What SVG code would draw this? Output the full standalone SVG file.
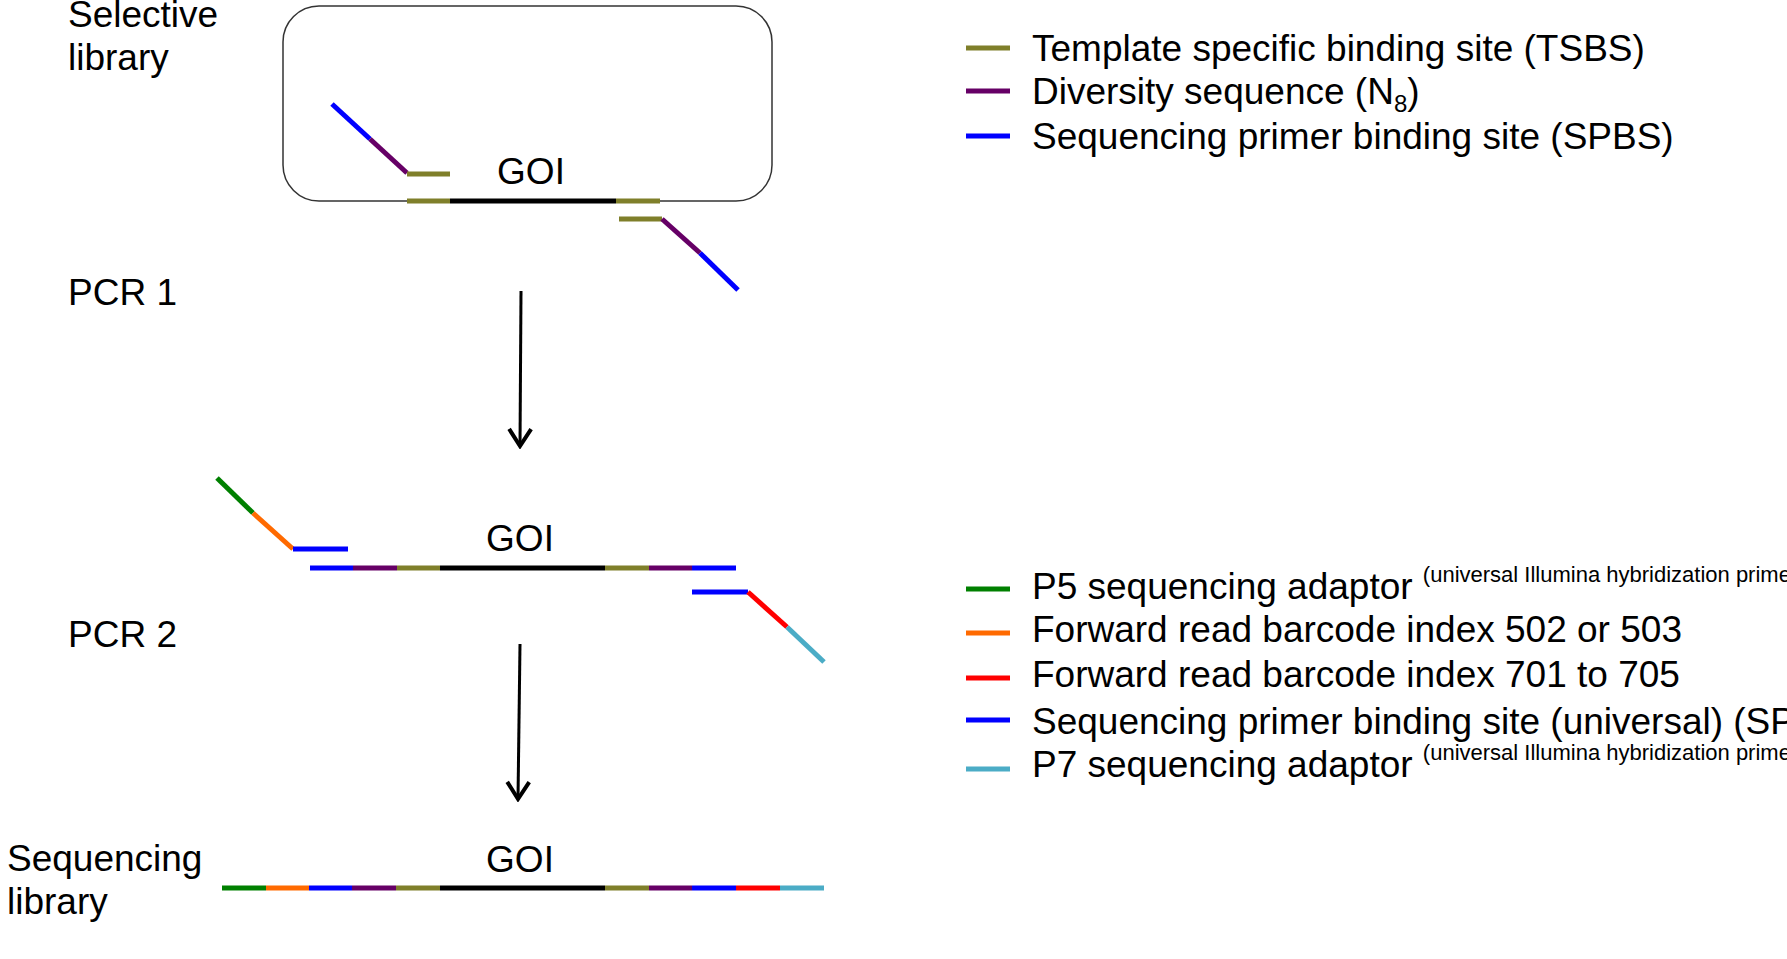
<svg xmlns="http://www.w3.org/2000/svg" width="1787" height="959" viewBox="0 0 1787 959">
<style>
text{font-family:"Liberation Sans",Arial,sans-serif;fill:#000}
.l{font-size:37px}
.s{font-size:22px}
.st{fill:none;stroke-width:5}
.o{stroke:#7f7f2a}.p{stroke:#660066}.b{stroke:#0000ff}.k{stroke:#000}
.g{stroke:#008000}.or{stroke:#ff6a00}.r{stroke:#ff0000}.c{stroke:#4bacc6}
</style>
<defs><marker id="ah" markerWidth="22" markerHeight="26" refX="19" refY="13" orient="auto" markerUnits="userSpaceOnUse" viewBox="0 0 22 26"><path d="M2,2 L19,13 L2,24" fill="none" stroke="#000" stroke-width="4"/></marker></defs>
<rect width="1787" height="959" fill="#fff"/>
<g id="labels">
<text class="l" x="68" y="27">Selective</text>
<text class="l" x="68" y="70">library</text>
<text class="l" x="68" y="305">PCR 1</text>
<text class="l" x="68" y="647">PCR 2</text>
<text class="l" x="7" y="871">Sequencing</text>
<text class="l" x="7" y="914">library</text>
</g>
<g id="selective">
<rect x="283" y="6" width="489" height="195" rx="36" fill="none" stroke="#333" stroke-width="1.5"/>
<text class="l" x="531" y="184" text-anchor="middle">GOI</text>
<polyline class="st b" points="332,104 370,139"/><polyline class="st p" points="370,139 407,173"/><line class="st o" x1="407" y1="174" x2="450" y2="174"/>
<line class="st o" x1="407" y1="201" x2="450" y2="201"/><line class="st k" x1="450" y1="201" x2="616" y2="201"/><line class="st o" x1="616" y1="201" x2="660" y2="201"/>
<line class="st o" x1="619" y1="219" x2="662" y2="219"/><polyline class="st p" points="662,219 700,253"/><polyline class="st b" points="700,253 738,290"/>
</g>
<g id="pcr2">
<text class="l" x="520" y="551" text-anchor="middle">GOI</text>
<line class="st g" x1="217" y1="478" x2="253" y2="513"/><line class="st or" x1="253" y1="513" x2="293" y2="549"/><line class="st b" x1="293" y1="549" x2="348" y2="549"/>
<line class="st b" x1="310" y1="568" x2="353" y2="568"/><line class="st p" x1="353" y1="568" x2="397" y2="568"/><line class="st o" x1="397" y1="568" x2="440" y2="568"/><line class="st k" x1="440" y1="568" x2="605" y2="568"/><line class="st o" x1="605" y1="568" x2="649" y2="568"/><line class="st p" x1="649" y1="568" x2="692" y2="568"/><line class="st b" x1="692" y1="568" x2="736" y2="568"/>
<line class="st b" x1="692" y1="592" x2="748" y2="592"/><line class="st r" x1="748" y1="592" x2="787" y2="627"/><line class="st c" x1="787" y1="627" x2="824" y2="662"/>
</g>
<g id="seqlib">
<text class="l" x="520" y="872" text-anchor="middle">GOI</text>
<line class="st g" x1="222" y1="888" x2="266" y2="888"/><line class="st or" x1="266" y1="888" x2="309" y2="888"/><line class="st b" x1="309" y1="888" x2="352" y2="888"/><line class="st p" x1="352" y1="888" x2="396" y2="888"/><line class="st o" x1="396" y1="888" x2="440" y2="888"/><line class="st k" x1="440" y1="888" x2="605" y2="888"/><line class="st o" x1="605" y1="888" x2="649" y2="888"/><line class="st p" x1="649" y1="888" x2="692" y2="888"/><line class="st b" x1="692" y1="888" x2="736" y2="888"/><line class="st r" x1="736" y1="888" x2="780" y2="888"/><line class="st c" x1="780" y1="888" x2="824" y2="888"/>
</g>
<g id="connectors">
<line x1="521" y1="291" x2="520" y2="446" stroke="#000" stroke-width="3" marker-end="url(#ah)"/>
<line x1="520" y1="644" x2="518" y2="799" stroke="#000" stroke-width="3" marker-end="url(#ah)"/>
</g>
<g id="legend1">
<line class="st o" x1="966" y1="48" x2="1010" y2="48"/><text class="l" x="1032" y="61">Template specific binding site (TSBS)</text>
<line class="st p" x1="966" y1="91" x2="1010" y2="91"/><text class="l" x="1032" y="104">Diversity sequence (N<tspan font-size="24" dy="8">8</tspan><tspan dy="-8">)</tspan></text>
<line class="st b" x1="966" y1="136" x2="1010" y2="136"/><text class="l" x="1032" y="149">Sequencing primer binding site (SPBS)</text>
</g>
<g id="legend2">
<line class="st g" x1="966" y1="589" x2="1010" y2="589"/><text class="l" x="1032" y="599">P5 sequencing adaptor <tspan class="s" dy="-17">(universal Illumina hybridization primer)</tspan></text>
<line class="st or" x1="966" y1="633" x2="1010" y2="633"/><text class="l" x="1032" y="642">Forward read barcode index 502 or 503</text>
<line class="st r" x1="966" y1="678" x2="1010" y2="678"/><text class="l" x="1032" y="687">Forward read barcode index 701 to 705</text>
<line class="st b" x1="966" y1="720" x2="1010" y2="720"/><text class="l" x="1032" y="734">Sequencing primer binding site (universal) (SPBS)</text>
<line class="st c" x1="966" y1="769" x2="1010" y2="769"/><text class="l" x="1032" y="777">P7 sequencing adaptor <tspan class="s" dy="-17">(universal Illumina hybridization primer)</tspan></text>
</g>
</svg>
